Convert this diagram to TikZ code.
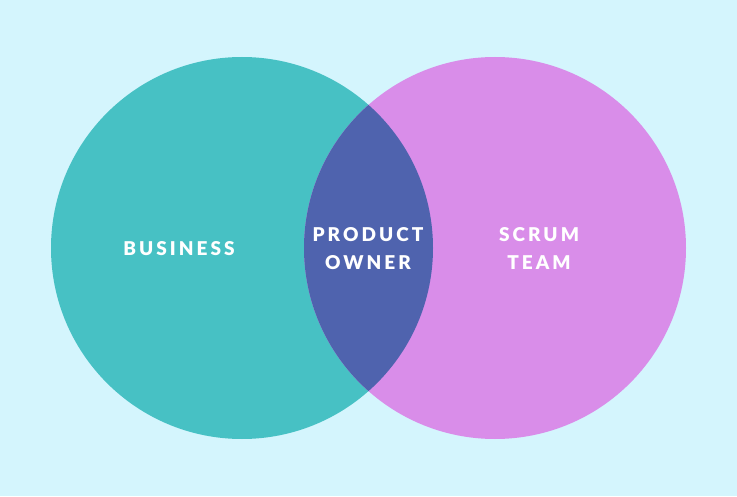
\documentclass[tikz,border=0pt]{standalone}
\usepackage{fontspec}
\setmainfont{Lato}[BoldFont={Lato Black}, LetterSpace=16]
\usetikzlibrary{positioning}
\usetikzlibrary{backgrounds}

\definecolor{bgcol}{HTML}{D4F5FD}
\definecolor{tealcol}{HTML}{47C1C4}
\definecolor{pinkcol}{HTML}{D98DE9}
\definecolor{overlapcol}{HTML}{4F63AE}

\begin{document}
\begin{tikzpicture}[x=1pt, y=1pt,
    label/.style={text=white, font=\fontsize{19}{28}\selectfont\bfseries, align=center, inner sep=0pt}]

    % Background
    \fill[bgcol] (0,0) rectangle (737,496);
    \useasboundingbox (0,0) rectangle (737,496);

    % Circles
    \fill[tealcol] (242,248) circle (191);
    \fill[pinkcol] (495,248) circle (191);
    \begin{scope}
      \clip (242,248) circle (191);
      \fill[overlapcol] (495,248) circle (191);
    \end{scope}

    % Nodes
    \node[label] (business) at (179,247) {BUSINESS};
    \node[label] (owner) at (368,247) {PRODUCT\\OWNER};
    \node[label] (team) at (539,247) {SCRUM\\TEAM};

\end{tikzpicture}
\end{document}
